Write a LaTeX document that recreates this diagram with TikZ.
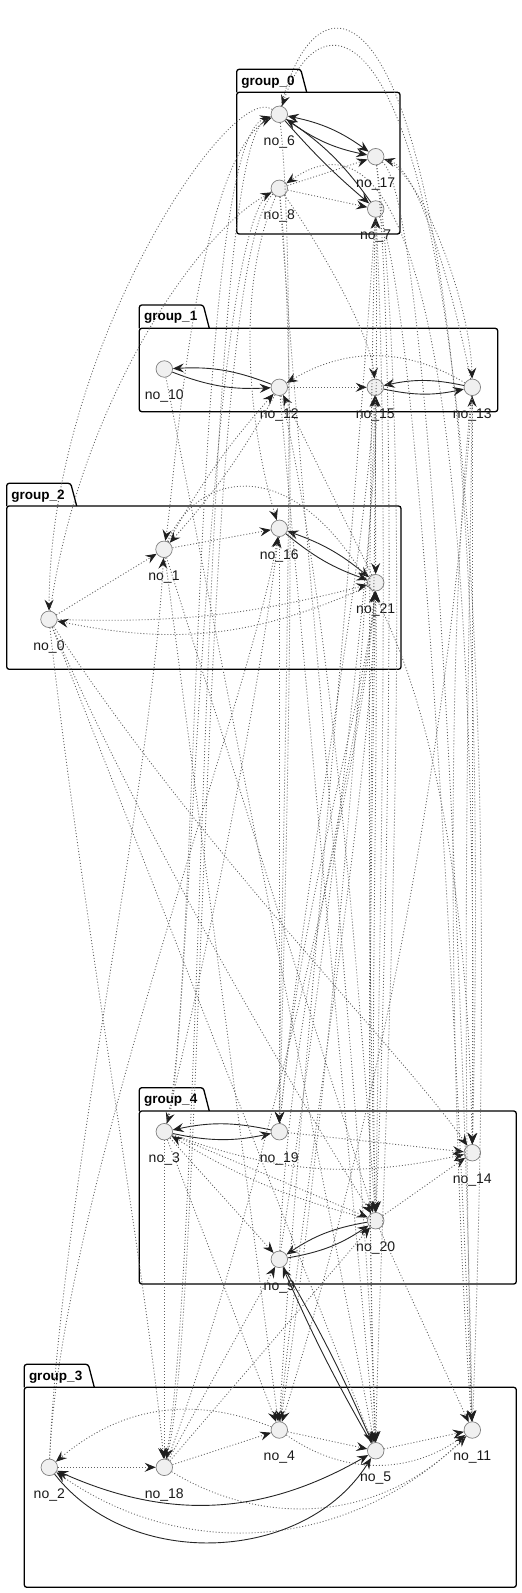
\documentclass[tikz,border=0pt]{standalone}
\usepackage{fontspec}
\setmainfont{Liberation Sans}
\usetikzlibrary{arrows.meta}
\tikzset{
  uc/.style={circle, draw=black!50, fill=black!6, line width=0.7pt, minimum size=16.5pt, inner sep=0pt},
  nlab/.style={font=\fontsize{14pt}{16pt}\selectfont, text=black!90, inner sep=0pt, text height=10pt, text depth=0pt, yshift=-12pt},
  grp/.style={draw=black, line width=1.3pt, rounded corners=2.5pt},
  gtitle/.style={font=\bfseries\fontsize{13.5pt}{15pt}\selectfont, anchor=base west, inner sep=0pt},
  tipx/.tip={Stealth[length=11pt,width=9pt,inset=4pt,color=black!88]},
  sarr/.style={-tipx, line width=0.9pt, draw=black!85},
  sarrb/.style={tipx-tipx, line width=0.9pt, draw=black!85},
  darr/.style={-tipx, line width=0.85pt, draw=black!62, dash pattern=on 1pt off 2pt}
}
\begin{document}
\begin{tikzpicture}[x=1pt,y=1pt]
\useasboundingbox (0,0) rectangle (522,-1593);
% ---------- groups ----------
\draw[grp] (236.7,-92.3) -- (236.7,-69.3) -- (300.7,-69.3) -- (306.7,-92.3);
\draw[grp] (236.7,-92.3) rectangle (400,-234);
\node[gtitle] (t0) at (241.2,-85) {group\_0};
\draw[grp] (139.3,-328.3) -- (139.3,-305) -- (203.3,-305) -- (209.3,-328.3);
\draw[grp] (139.3,-328.3) rectangle (497.7,-411.7);
\node[gtitle] (t1) at (143.8,-320.7) {group\_1};
\draw[grp] (6.7,-506) -- (6.7,-483.3) -- (70.7,-483.3) -- (76.7,-506);
\draw[grp] (6.7,-506) rectangle (401,-669.3);
\node[gtitle] (t2) at (11.2,-499) {group\_2};
\draw[grp] (139.3,-1111) -- (139.3,-1087.7) -- (203.3,-1087.7) -- (209.3,-1111);
\draw[grp] (139.3,-1111) rectangle (516.3,-1284);
\node[gtitle] (t4) at (143.8,-1103.4) {group\_4};
\draw[grp] (24.3,-1387.3) -- (24.3,-1364.3) -- (88.3,-1364.3) -- (94.3,-1387.3);
\draw[grp] (24.3,-1387.3) rectangle (516.3,-1587.3);
\node[gtitle] (t3) at (28.8,-1380) {group\_3};
% ---------- nodes ----------
\node[uc, label={[nlab,name=l6]below:no\_6}] (n6) at (279.3,-114.3) {};
\node[uc, label={[nlab,name=l17]below:no\_17}] (n17) at (375.7,-156.7) {};
\node[uc, label={[nlab,name=l8]below:no\_8}] (n8) at (279.3,-188.3) {};
\node[uc, label={[nlab,name=l7]below:no\_7}] (n7) at (375.7,-209) {};
\node[uc, label={[nlab,name=l10]below:no\_10}] (n10) at (164.3,-369) {};
\node[uc, label={[nlab,name=l12]below:no\_12}] (n12) at (279.3,-387.3) {};
\node[uc, label={[nlab,name=l15]below:no\_15}] (n15) at (375.3,-387.3) {};
\node[uc, label={[nlab,name=l13]below:no\_13}] (n13) at (472.3,-387.3) {};
\node[uc, label={[nlab,name=l1]below:no\_1}] (n1) at (164,-549.3) {};
\node[uc, label={[nlab,name=l16]below:no\_16}] (n16) at (279.3,-528.3) {};
\node[uc, label={[nlab,name=l21]below:no\_21}] (n21) at (375.7,-582.7) {};
\node[uc, label={[nlab,name=l0]below:no\_0}] (n0) at (49,-619.3) {};
\node[uc, label={[nlab,name=l3]below:no\_3}] (n3) at (164.3,-1131.7) {};
\node[uc, label={[nlab,name=l19]below:no\_19}] (n19) at (279.3,-1131.7) {};
\node[uc, label={[nlab,name=l14]below:no\_14}] (n14) at (472.3,-1152.7) {};
\node[uc, label={[nlab,name=l20]below:no\_20}] (n20) at (375.7,-1220.7) {};
\node[uc, label={[nlab,name=l9]below:no\_9}] (n9) at (279.3,-1259.3) {};
\node[uc, label={[nlab,name=l2]below:no\_2}] (n2) at (49.3,-1467.3) {};
\node[uc, label={[nlab,name=l18]below:no\_18}] (n18) at (164.3,-1467.3) {};
\node[uc, label={[nlab,name=l4]below:no\_4}] (n4) at (279.3,-1430) {};
\node[uc, label={[nlab,name=l5]below:no\_5}] (n5) at (375.7,-1450.7) {};
\node[uc, label={[nlab,name=l11]below:no\_11}] (n11) at (472.3,-1430) {};
% ---------- solid edges ----------
\draw[sarrb] (n6) to[bend left=12] (n17);
\draw[sarr] (n6) to[bend right=12] (n17);
\draw[sarr] (n6) to[bend right=4] (n7);
\draw[sarr] (n7) to[bend right=10] (n6);
\draw[sarr] (n12) to[bend right=12] (n10);
\draw[sarr] (n10) to[bend right=12] (n12);
\draw[sarr] (n13) to[bend right=12] (n15);
\draw[sarr] (n15) to[bend right=12] (n13);
\draw[sarrb] (n16) to[bend left=10] (n21);
\draw[sarr] (n16) to[bend right=10] (n21);
\draw[sarr] (n19) to[bend right=12] (n3);
\draw[sarr] (n3) to[bend right=12] (n19);
\draw[sarr] (n20) to[bend right=12] (n9);
\draw[sarr] (n9) to[bend right=12] (n20);
\draw[sarr] (n9) to[bend left=3] (n5);
\draw[sarr] (n5) to[bend left=3] (n9);
\draw[sarrb] (n2) to[bend right=27] (n5);
\draw[sarr] (n2) to[bend right=55] (n5);
% ---------- dotted edges inside groups ----------
\draw[darr] (n8) -- (n17);
\draw[darr] (n8) -- (n7);
\draw[darr] (n12) -- (n15);
\draw[darr] (n13) to[bend right=31] (n12);
\draw[darr] (n0) -- (n1);
\draw[darr] (n1) -- (n16);
\draw[darr] (n0) to[bend right=8] (n21);
\draw[darr] (n21) to[bend left=18] (n0);
\draw[darr] (n19) -- (n14);
\draw[darr] (n3) to[bend right=16] (n14);
\draw[darr] (n3) -- (n20);
\draw[darr] (n20) -- (n14);
\draw[darr] (n3) -- (n9);
\draw[darr] (n20) to[bend left=8] (n3);
\draw[darr] (n4) to[bend right=31] (n2);
\draw[darr] (n2) -- (n18);
\draw[darr] (n18) -- (n4);
\draw[darr] (n4) -- (n5);
\draw[darr] (n5) -- (n11);
\draw[darr] (n18) to[bend right=38] (n11);
\draw[darr] (n4) to[bend right=35] (n11);
\draw[darr] (n11) to[bend left=40] (n2);
% ---------- dotted edges between groups ----------
\draw[darr] (n3) .. controls (200,-1000) and (190,-140) .. (n6);
\draw[darr] (n18) .. controls (205,-1250) and (200,-150) .. (n6);
\draw[darr] (n6) .. controls (195,-150) and (175,-480) .. (n1);
\draw[darr] (n8) .. controls (205,-220) and (190,-1050) .. (n3);
\draw[darr] (n8) .. controls (200,-260) and (205,-1300) .. (n18);
\draw[darr] (n3) -- (n18);
\draw[darr] (n6) .. controls (230,-80) and (50,-350) .. (n0);
\draw[darr] (n6) .. controls (320,60) and (500,60) .. (n14);
\draw[darr] (n11) .. controls (525,10) and (330,40) .. (n6);
\draw[darr] (n14) .. controls (480,-400) and (420,-90) .. (n8);
\draw[darr] (n13) .. controls (455,-300) and (420,-170) .. (n17);
\draw[darr] (n17) .. controls (420,-170) and (470,-300) .. (n13);
\draw[darr] (n8) .. controls (310,-230) and (370,-330) .. (n15);
\draw[darr] (n20) .. controls (365,-900) and (370,-400) .. (n7);
\draw[darr] (n5) .. controls (360,-1000) and (380,-500) .. (n7);
\draw[darr] (n19) .. controls (300,-900) and (360,-600) .. (n15);
\draw[darr] (n4) .. controls (330,-1100) and (370,-600) .. (n15);
\draw[darr] (n9) .. controls (320,-1000) and (380,-500) .. (n15);
\draw[darr] (n11) .. controls (460,-1000) and (470,-600) .. (n13);
\draw[darr] (n13) -- (n14);
\draw[darr] (n13) .. controls (440,-700) and (455,-1200) .. (n11);
\draw[darr] (n17) .. controls (430,-200) and (465,-1000) .. (n11);
\draw[darr] (n7) .. controls (420,-300) and (460,-1100) .. (n11);
\draw[darr] (n1) to[bend left=6] (n12);
\draw[darr] (n21) -- (n12);
\draw[darr] (n8) .. controls (230,-300) and (255,-450) .. (n16);
\draw[darr] (n0) .. controls (80,-400) and (200,-230) .. (n8);
\draw[darr] (n3) .. controls (220,-900) and (265,-650) .. (n16);
\draw[darr] (n2) .. controls (60,-1200) and (250,-700) .. (n16);
\draw[darr] (n2) .. controls (60,-1200) and (150,-800) .. (n1);
\draw[darr] (n19) .. controls (300,-900) and (365,-700) .. (n21);
\draw[darr] (n20) .. controls (370,-1000) and (378,-800) .. (n21);
\draw[darr] (n5) .. controls (365,-1200) and (372,-800) .. (n21);
\draw[darr] (n4) .. controls (300,-1200) and (370,-800) .. (n21);
\draw[darr] (n9) .. controls (290,-1000) and (360,-750) .. (n21);
\draw[darr] (n15) -- (n21);
\draw[darr] (n12) to[bend left=6] (n1);
\draw[darr] (n16) -- (n19);
\draw[darr] (n6) .. controls (300,-300) and (280,-900) .. (n19);
\draw[darr] (n8) .. controls (300,-400) and (285,-900) .. (n19);
\draw[darr] (n7) .. controls (390,-500) and (380,-900) .. (n20);
\draw[darr] (n17) .. controls (400,-400) and (385,-1000) .. (n20);
\draw[darr] (n0) .. controls (150,-850) and (300,-1100) .. (n20);
\draw[darr] (n12) .. controls (330,-600) and (360,-1000) .. (n20);
\draw[darr] (n1) -- (n20);
\draw[darr] (n0) .. controls (200,-850) and (400,-1050) .. (n14);
\draw[darr] (n1) .. controls (220,-420) and (460,-450) .. (n14);
\draw[darr] (n1) -- (n4);
\draw[darr] (n13) .. controls (440,-900) and (320,-1300) .. (n4);
\draw[darr] (n7) .. controls (350,-600) and (290,-1200) .. (n4);
\draw[darr] (n3) -- (n4);
\draw[darr] (n12) -- (n5);
\draw[darr] (n10) -- (n5);
\draw[darr] (n17) .. controls (420,-500) and (380,-1200) .. (n5);
\draw[darr] (n8) .. controls (300,-500) and (370,-1200) .. (n5);
\draw[darr] (n0) -- (n5);
\draw[darr] (n20) -- (n11);
\draw[darr] (n18) -- (n9);
\draw[darr] (n18) .. controls (230,-1300) and (360,-800) .. (n21);
\draw[darr] (n18) -- (n20);
\draw[darr] (n0) .. controls (80,-900) and (150,-1300) .. (n18);
\end{tikzpicture}
\end{document}
